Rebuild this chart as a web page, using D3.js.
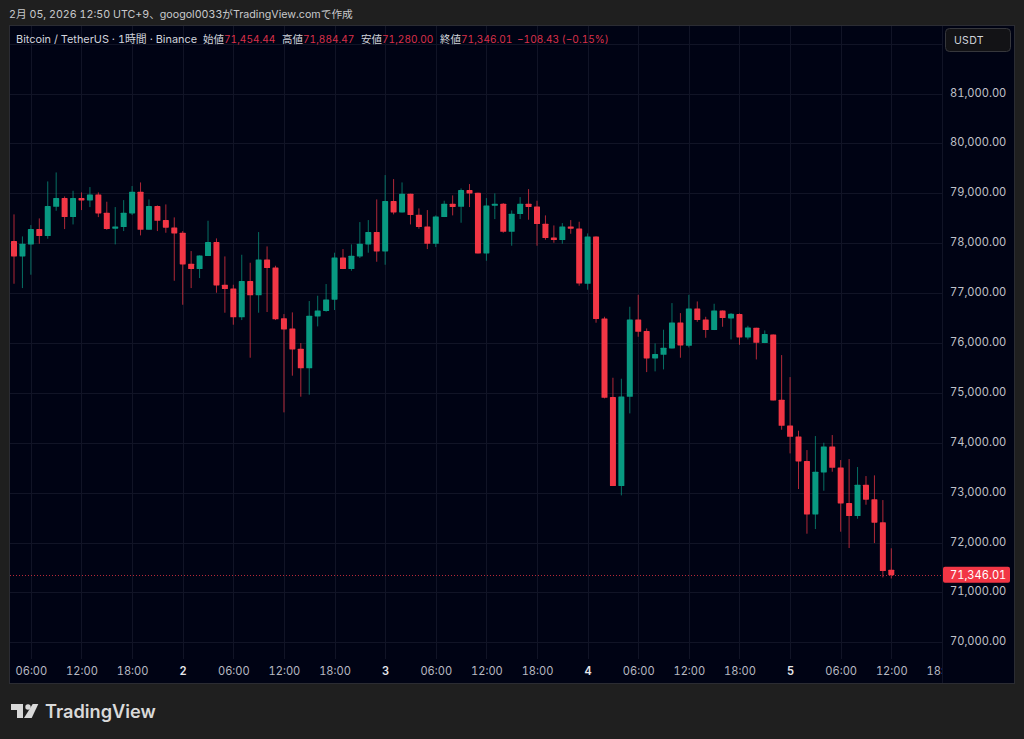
<!DOCTYPE html>
<html><head><meta charset="utf-8">
<script src="https://d3js.org/d3.v7.min.js"></script>
<style>html,body{margin:0;padding:0;background:#1f1f1f;overflow:hidden}svg{display:block}
text{font-family:Inter,"Noto Sans CJK JP",sans-serif;font-variant-numeric:tabular-nums}</style></head><body>
<svg id="c" width="1024" height="739"></svg>
<script>
const opens=[78042,77735,77976,78283,78143,78730,78904,78523,78904,78857,78978,78610,78290,78323,78597,79031,78269,78744,78463,78316,78209,77588,77481,77742,78022,77167,77094,76513,77241,76954,77675,77515,76493,76292,75885,75491,76533,76640,76867,77715,77481,77735,77976,78223,77835,78844,78617,78991,78570,78336,77989,78523,78791,78730,79064,79011,77795,78750,78791,78229,78583,78791,78737,78390,78116,78062,78336,78296,77187,78136,76492,74915,73132,74922,76472,76238,75690,75764,75891,76412,75944,76692,76472,76258,76652,76492,76579,76111,76305,75997,76171,74862,74348,74127,73633,72564,73406,73927,73506,72791,72531,73158,72865,72404,71454.44];
const highs=[78577,78136,78363,78497,79238,79418,78937,79051,79018,79125,79018,78831,78724,78864,79145,79218,78877,78757,78777,78517,78243,77842,77755,78450,78096,77735,77167,77768,77608,78223,77935,77548,76579,76613,75998,76840,76947,77181,77809,77882,77976,78423,78463,78877,79365,79285,79218,78991,78697,78664,78557,78851,78958,79098,79185,79011,78904,78998,78804,78657,78924,79084,78851,78557,78356,78403,78463,78430,78196,78136,76525,75303,75283,76726,76966,76291,75991,76265,76799,76599,76966,76832,76525,76786,76652,76599,76592,76345,76305,76251,76171,75757,75316,74241,73853,74134,74000,74154,73653,73673,73513,73332,73346,72851,71884.47];
const lows=[77187,77100,77368,77989,78089,78650,78283,78376,78664,78724,78523,78269,77976,78243,78563,78156,78269,78243,78209,77247,76766,77100,77301,77742,77007,76606,76366,76459,75704,76606,76620,76459,74609,75344,74923,74963,76332,76626,76660,77481,77448,77702,77809,77628,77568,78577,78617,78376,78290,77882,77922,78523,78557,78410,78724,77795,77648,78483,78209,77949,78483,78470,77949,78069,78009,77989,78189,77147,77067,76406,74889,73132,72945,74588,76124,75416,75430,75470,75891,75704,75911,76425,76104,76258,76325,76071,75964,76071,75670,75997,74849,74261,73786,73072,72177,72270,73038,73419,72217,71889,72477,72758,71989,71301,71280];
const closes=[77735,77989,78283,78143,78744,78904,78523,78904,78857,78978,78597,78283,78336,78610,79031,78269,78744,78450,78310,78196,77575,77481,77755,78022,77154,77080,76513,77241,76954,77675,77501,76473,76272,75871,75491,76546,76653,76873,77715,77481,77748,77989,78223,77835,78844,78617,78991,78563,78323,77989,78537,78791,78724,79064,78998,77795,78757,78791,78229,78590,78791,78724,78383,78102,78062,78336,78290,77194,78136,76479,74902,73132,74929,76472,76225,75690,75777,75904,76412,75951,76692,76458,76258,76652,76498,76585,76111,76311,76004,76178,74849,74341,74120,73626,72564,73419,73927,73499,72784,72531,73158,72858,72397,71428,71346.01];
const priceTicks=[70000,71000,72000,73000,74000,75000,76000,77000,78000,79000,80000,81000,82000];
const timeTickIdx=[2,8,14,20,26,32,38,44,50,56,62,68,74,80,86,92,98,104,110];
const timeTickLabels=["06:00","12:00","18:00","2","06:00","12:00","18:00","3","06:00","12:00","18:00","4","06:00","12:00","18:00","5","06:00","12:00","18:00"];
const lastPrice=71346.01;
const titleParts=[["Bitcoin / TetherUS · 1時間 · Binance","#d1d4dc",16,10.9],["始値","#d1d4dc",203,10.5],["71,454.44","#d9304a",224,10.15],["高値","#d1d4dc",282,10.5],["71,884.47","#d9304a",303,10.15],["安値","#d1d4dc",361,10.5],["71,280.00","#d9304a",382,10.15],["終値","#d1d4dc",440,10.5],["71,346.01","#d9304a",461,10.15],["−108.43 (−0.15%)","#d9304a",517,10.15]];

const red="#f23645",green="#089981";
const svg=d3.select("#c");
const L=10,R=1014,T=26,B=683,AX=942;
svg.append("rect").attr("width",1024).attr("height",739).attr("fill","#1f1f1f");
svg.append("rect").attr("x",L-0.5).attr("y",T-0.5).attr("width",R-L+1).attr("height",B-T+1).attr("fill","#000314").attr("stroke","#2b2c33");
const defs=svg.append("defs");
defs.append("clipPath").attr("id","plot").append("rect").attr("x",L).attr("y",T).attr("width",AX-L).attr("height",B-T);

const x=d3.scaleLinear().domain([0,104]).range([14,891.3]);
const y=d3.scaleLinear().domain([70000,79000]).range([642.3,193.3]);

// grid
const g=svg.append("g").attr("clip-path","url(#plot)");
g.append("g").selectAll("line").data(priceTicks).join("line")
 .attr("x1",L).attr("x2",AX).attr("y1",d=>Math.round(y(d))+.5).attr("y2",d=>Math.round(y(d))+.5).attr("stroke","#111426");
g.append("g").selectAll("line").data(timeTickIdx).join("line")
 .attr("y1",T).attr("y2",659).attr("x1",d=>Math.round(x(d))+.5).attr("x2",d=>Math.round(x(d))+.5).attr("stroke","#111426");
svg.append("line").attr("x1",AX+.5).attr("x2",AX+.5).attr("y1",T).attr("y2",B).attr("stroke","#111426");

// last price line
g.append("line").attr("x1",L).attr("x2",AX).attr("y1",Math.round(y(lastPrice))+.5).attr("y2",Math.round(y(lastPrice))+.5)
 .attr("stroke",red).attr("stroke-opacity",.75).attr("stroke-dasharray","1 2");

// candles
const idx=d3.range(opens.length);
const col=i=>closes[i]>=opens[i]?green:red;
g.append("g").selectAll("line").data(idx).join("line")
 .attr("x1",i=>x(i)).attr("x2",i=>x(i)).attr("y1",i=>y(highs[i])).attr("y2",i=>y(lows[i]))
 .attr("stroke",col).attr("stroke-width",1).attr("stroke-opacity",.72);
g.append("g").selectAll("rect").data(idx).join("rect")
 .attr("x",i=>x(i)-3).attr("width",6)
 .attr("y",i=>y(Math.max(opens[i],closes[i])))
 .attr("height",i=>Math.max(1.5,Math.abs(y(opens[i])-y(closes[i]))))
 .attr("rx",.6).attr("fill",col);

// price axis
const ay=svg.append("g").attr("transform",`translate(${AX},0)`)
 .call(d3.axisRight(y).tickValues(priceTicks.slice(0,-1)).tickSize(0).tickPadding(8).tickFormat(d3.format(",.2f")));
ay.select(".domain").remove();
ay.selectAll("text").attr("fill","#c0c2ca").attr("font-size",11.1).attr("dy","0.32em").attr("transform","translate(0,-1)").style("font-family","Inter,sans-serif");

// time axis
const ax=svg.append("g").attr("clip-path","url(#plot)").append("g").attr("transform","translate(0,660)")
 .call(d3.axisBottom(x).tickValues(timeTickIdx).tickSize(0).tickPadding(7).tickFormat((d,i)=>timeTickLabels[i]));
ax.select(".domain").remove();
ax.selectAll("text").attr("fill",(d,i)=>/:/.test(timeTickLabels[i])?"#b8bac2":"#e6e7ec")
 .attr("font-weight",(d,i)=>/:/.test(timeTickLabels[i])?400:600)
 .attr("font-size",11.1).style("font-family","Inter,sans-serif");

// last price tag
svg.append("rect").attr("x",943).attr("y",y(lastPrice)-8.5).attr("width",67).attr("height",16).attr("rx",2).attr("fill",red);
svg.append("text").attr("x",950).attr("y",y(lastPrice)+3.6).attr("fill","#fff").attr("font-size",11.1).text(d3.format(",.2f")(lastPrice));

// USDT button
svg.append("rect").attr("x",945.5).attr("y",28.5).attr("width",65).attr("height",23).attr("rx",4).attr("fill","#131316").attr("stroke","#36373c");
svg.append("text").attr("x",954).attr("y",44).attr("fill","#d1d4dc").attr("font-size",10.5).attr("letter-spacing",".3").text("USDT");

// header
svg.append("text").attr("x",9).attr("y",18).attr("fill","#c8c9cc").attr("font-size",10.68)
 .text("2月 05, 2026 12:50 UTC+9、googol0033がTradingView.comで作成");
svg.append("g").selectAll("text").data(titleParts).join("text")
 .attr("x",d=>d[2]).attr("y",42.5).attr("fill",d=>d[1]).attr("font-size",d=>d[3]).text(d=>d[0]);

// logo
const logo=svg.append("g").attr("transform","translate(11,704)").attr("fill","#d9d9d9");
logo.append("path").attr("d","M0 0H12V14H6V6H0Z");
logo.append("circle").attr("cx",17).attr("cy",3).attr("r",2.7);
logo.append("path").attr("d","M21.7 0H27.3L20.7 14H13Z");
svg.append("text").attr("x",45).attr("y",718).attr("fill","#d9d9d9").attr("font-size",18.2).attr("font-weight",600).text("TradingView");
</script></body></html>
